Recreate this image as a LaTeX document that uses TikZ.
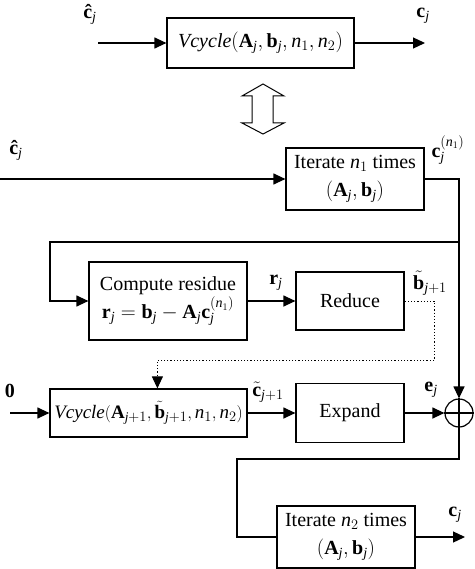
\documentclass[tikz,border=0pt]{standalone}
\usepackage{fontspec}
\setmainfont{Liberation Serif}
\usepackage{tikz}
\usetikzlibrary{arrows.meta,positioning,calc}

\begin{document}
\begin{tikzpicture}[x=1pt,y=-1pt,
  font=\fontsize{20}{28}\selectfont,
  blk/.style={draw, line width=1.2pt, inner sep=0pt, align=center},
  flow/.style={line width=1.2pt, -{Triangle[length=12pt,width=11pt]}},
  wire/.style={line width=1.2pt},
  lbl/.style={inner sep=0pt}]
\useasboundingbox (0,0) rectangle (474,569);

% top: the whole cycle as one block
\node[blk, minimum width=187pt, minimum height=50pt] (vtop) at (260.5,43)
  {$\mathit{Vcycle}(\mathbf{A}_{\mathit{j}},\mathbf{b}_{\mathit{j}},\mathit{n}_1,\mathit{n}_2)$};
\coordinate (tin) at (98,43);
\coordinate (tout) at (425,43);
\draw[flow] (tin) -- (vtop);
\draw[flow] (vtop) -- (tout);
\node[lbl] (lchat) at (90,14) {\textbf{ĉ}$_{\mathit{j}}$};
\node[lbl] (lctop) at (423,16) {$\mathbf{c}_{\mathit{j}}$};

% equivalence arrow
\draw[line width=1pt] (263,84) -- (284,96) -- (273,96) -- (273,123) -- (284,123) -- (263,134)
  -- (242,123) -- (252,123) -- (252,96) -- (242,96) -- cycle;

% expanded blocks
\node[blk, minimum width=138pt, minimum height=62pt] (it1) at (355,179)
  {Iterate $\mathit{n}_1$ times\\ $(\mathbf{A}_{\mathit{j}},\mathbf{b}_{\mathit{j}})$};
\node[blk, minimum width=158pt, minimum height=78pt] (comp) at (168,301)
  {Compute residue\\ $\mathbf{r}_{\mathit{j}}=\mathbf{b}_{\mathit{j}}-\mathbf{A}_{\mathit{j}}\mathbf{c}_{\mathit{j}}^{(\mathit{n}_1)}$};
\node[blk, minimum width=108pt, minimum height=58pt] (red) at (350,301) {Reduce};
\node[blk, minimum width=197pt, minimum height=48pt, font=\fontsize{19}{27}\selectfont] (vc2) at (148.5,413)
  {$\mathit{Vcycle}(\mathbf{A}_{\mathit{j}+1},\tilde{\mathbf{b}}_{\mathit{j}+1},\mathit{n}_1,\mathit{n}_2)$};
\node[blk, minimum width=108pt, minimum height=59pt] (exp) at (350,413) {Expand};
\node[draw, circle, line width=1.2pt, minimum size=28pt, inner sep=0pt] (sum) at (459,413) {};
\draw[wire] (sum.north) -- (sum.south) (sum.west) -- (sum.east);
\node[blk, minimum width=138pt, minimum height=62pt] (it2) at (346,537)
  {Iterate $\mathit{n}_2$ times\\ $(\mathbf{A}_{\mathit{j}},\mathbf{b}_{\mathit{j}})$};

% connectors
\coordinate (in1) at (0,179);
\coordinate (tap) at (459,242);
\coordinate (loop) at (50,242);
\coordinate (zin) at (10,413);
\coordinate (ret) at (237,459);
\coordinate (out2) at (465,537);
\draw[flow] (in1) -- (it1);
\draw[flow] (it1.east) -| (sum.north);
\draw[flow] (tap) -- (loop) |- (comp.west);
\draw[flow] (comp) -- (red);
\draw[flow, dotted, line width=1pt] (red.east) -- ++(30,0) -- ++(0,59)
  -| ($(vc2.north west)+(108,0)$);
\draw[flow] (zin) -- (vc2);
\draw[flow] (vc2) -- (exp);
\draw[flow] (exp) -- (sum);
\draw[wire] (sum.south) |- (ret) |- (it2.west);
\draw[flow] (it2) -- (out2);

% signal labels
\node[lbl] (lchat2) at (16,150) {\textbf{ĉ}$_{\mathit{j}}$};
\node[lbl] (lcn1) at (448,150) {$\mathbf{c}_{\mathit{j}}^{(\mathit{n}_1)}$};
\node[lbl] (lr) at (276,283) {$\mathbf{r}_{\mathit{j}}$};
\node[lbl] (lbt) at (430,283) {$\tilde{\mathbf{b}}_{\mathit{j}+1}$};
\node[lbl] (lzero) at (10,391) {$\mathbf{0}$};
\node[lbl] (lct) at (268,392) {$\tilde{\mathbf{c}}_{\mathit{j}+1}$};
\node[lbl] (le) at (431,390) {$\mathbf{e}_{\mathit{j}}$};
\node[lbl] (lcbot) at (455,515) {$\mathbf{c}_{\mathit{j}}$};
\end{tikzpicture}
\end{document}
